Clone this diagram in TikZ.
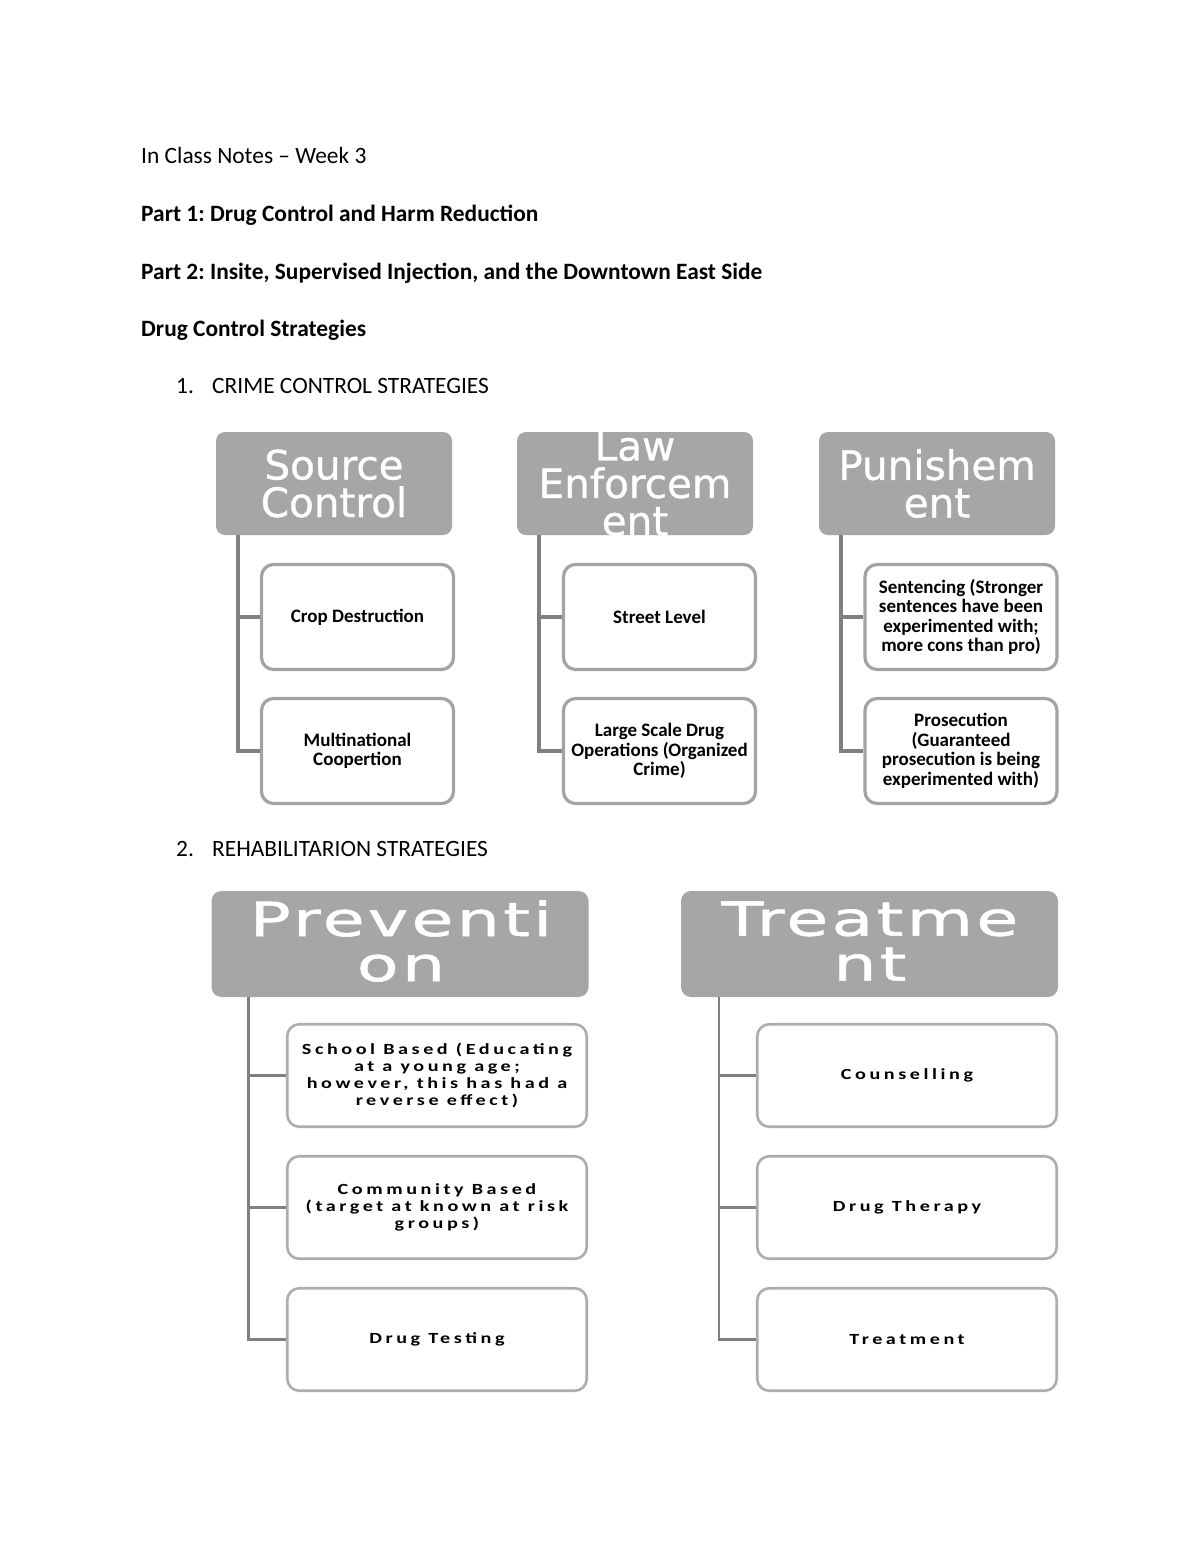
\documentclass[tikz,border=0pt]{standalone}
\usepackage{fontspec}
\setmainfont{Carlito}
\newfontfamily\hdrfont[FakeBold=0.8]{DejaVu Sans}
\newfontfamily\hdrwide[FakeStretch=1.45,LetterSpace=7,FakeBold=1.2]{DejaVu Sans}
\newfontfamily\kidwide[FakeStretch=1.3,LetterSpace=23]{Carlito}
\usetikzlibrary{calc}
\definecolor{hdrgrey}{HTML}{A6A6A6}
\definecolor{kidgrey}{HTML}{A3A3A3}
\definecolor{kidgreyb}{HTML}{ADADAD}
\definecolor{conngrey}{HTML}{808080}
\begin{document}
\frenchspacing
\begin{tikzpicture}[x=1pt,y=-1pt,
  bodytext/.style={anchor=base west, inner sep=0pt, font=\fontsize{23.4}{28}\selectfont},
  boldtext/.style={bodytext, font=\fontsize{23.4}{28}\selectfont\bfseries},
  crimehdr/.style={fill=hdrgrey, rounded corners=9pt, minimum width=236pt, minimum height=103pt, inner sep=0pt},
  rehabhdr/.style={fill=hdrgrey, rounded corners=10pt, minimum width=377pt, minimum height=106pt, inner sep=0pt},
  crimehdrtext/.style={text=white, align=center, inner sep=0pt, font=\hdrfont\fontsize{40.5}{37.5}\selectfont},
  rehabhdrtext/.style={text=white, align=center, inner sep=0pt, font=\hdrwide\fontsize{47}{45}\selectfont},
  crimekid/.style={draw=kidgrey, line width=3.2pt, fill=white, rounded corners=12pt, minimum width=192pt, minimum height=105pt, align=center, inner sep=0pt, font=\bfseries\fontsize{19}{19.5}\selectfont},
  rehabkid/.style={draw=kidgreyb, line width=2.6pt, fill=white, rounded corners=12pt, minimum width=299.5pt, minimum height=102.5pt, align=center, inner sep=0pt, font=\kidwide\bfseries\fontsize{15.5}{17}\selectfont},
  crimeconn/.style={draw=conngrey, line width=3.4pt},
  rehabconn/.style={draw=conngrey, line width=2.4pt}
]
\useasboundingbox[fill=white] (0,0) rectangle (1200,1553);

% ---- page text ----
\node[bodytext] (t1) at (141,163) {In Class Notes – Week 3};
\node[boldtext] (t2) at (141,221) {Part 1: Drug Control and Harm Reduction};
\node[boldtext] (t3) at (141,279) {Part 2: Insite, Supervised Injection, and the Downtown East Side};
\node[boldtext] (t4) at (141,336) {Drug Control Strategies};
\node[bodytext] (n1) at (176,393) {1.};
\node[bodytext] (s1) at (212,393) {CRIME CONTROL STRATEGIES};
\node[bodytext] (n2) at (176,856) {2.};
\node[bodytext] (s2) at (212,856) {REHABILITARION STRATEGIES};

% ---- crime control ----
\node[crimehdr] (sc) at (334,483.5) {};
\node[crimehdrtext] (sct) at (sc) {Source\\Control};
\node[crimekid] (sc1) at (357.5,617) {Crop Destruction};
\node[crimekid] (sc2) at (357.5,751) {Multinational\\Coopertion};
\draw[crimeconn] ($(sc.south west)+(22,0)$) |- (sc1.west);
\draw[crimeconn] ($(sc.south west)+(22,0)$) |- (sc2.west);

\node[crimehdr] (le) at (635,483.5) {};
\node[crimehdrtext] (let) at (le) {Law\\Enforcem\\ent};
\node[crimekid] (le1) at (659.5,617) {Street Level};
\node[crimekid] (le2) at (659.5,751) {Large Scale Drug\\Operations (Organized\\Crime)};
\draw[crimeconn] ($(le.south west)+(22,0)$) |- (le1.west);
\draw[crimeconn] ($(le.south west)+(22,0)$) |- (le2.west);

\node[crimehdr] (pu) at (937,483.5) {};
\node[crimehdrtext] (put) at (pu) {Punishem\\ent};
\node[crimekid] (pu1) at (961,617) {Sentencing (Stronger\\sentences have been\\experimented with;\\more cons than pro)};
\node[crimekid] (pu2) at (961,751) {Prosecution\\(Guaranteed\\prosecution is being\\experimented with)};
\draw[crimeconn] ($(pu.south west)+(22,0)$) |- (pu1.west);
\draw[crimeconn] ($(pu.south west)+(22,0)$) |- (pu2.west);

% ---- rehabilitation ----
\node[rehabhdr] (pr) at (400,944) {};
\node[rehabhdrtext] (prt) at (401,941) {Preventi\\on};
\node[rehabkid] (pr1) at (437,1075.5) {School Based (Educating\\at a young age;\\however, this has had a\\reverse effect)};
\node[rehabkid] (pr2) at (437,1207.5) {Community Based\\(target at known at risk\\groups)};
\node[rehabkid] (pr3) at (437,1339.5) {Drug Testing};
\draw[rehabconn] ($(pr.south west)+(37,0)$) |- (pr1.west);
\draw[rehabconn] ($(pr.south west)+(37,0)$) |- (pr2.west);
\draw[rehabconn] ($(pr.south west)+(37,0)$) |- (pr3.west);

\node[rehabhdr] (tr) at (869.5,944) {};
\node[rehabhdrtext] (trt) at (870,941) {Treatme\\nt};
\node[rehabkid] (tr1) at (907,1075.5) {Counselling};
\node[rehabkid] (tr2) at (907,1207.5) {Drug Therapy};
\node[rehabkid] (tr3) at (907,1339.5) {Treatment};
\draw[rehabconn] ($(tr.south west)+(38,0)$) |- (tr1.west);
\draw[rehabconn] ($(tr.south west)+(38,0)$) |- (tr2.west);
\draw[rehabconn] ($(tr.south west)+(38,0)$) |- (tr3.west);
\end{tikzpicture}
\end{document}
